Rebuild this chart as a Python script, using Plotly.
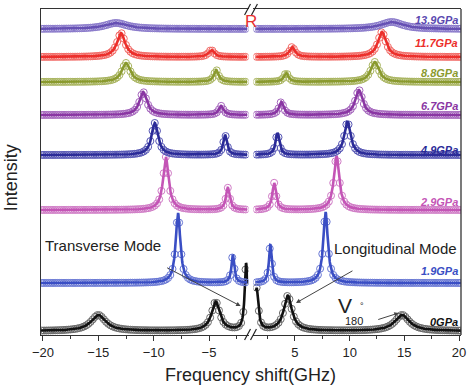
import numpy as np
import plotly.graph_objects as go

# ---------------- data ----------------
labels = ["0GPa", "1.9GPa", "2.9GPa", "4.9GPa", "6.7GPa", "8.8GPa", "11.7GPa", "13.9GPa"]
baselines = [4, 52, 125, 180, 220, 253, 278, 306]           # vertical stacking offsets
line_colors = ["#111111", "#3a4ec4", "#c455b6", "#2b2b98", "#8a36a3", "#8a9a2e", "#ec2f2b", "#6650b4"]
marker_colors = ["#6a6a6a", "#6877d4", "#d07cc6", "#5656b4", "#a566bd", "#a8b45e", "#f26a66", "#8a7acb"]
label_colors = ["#111111", "#3a4ec4", "#c455b6", "#2b2b98", "#8a36a3", "#8a9a2e", "#ec2f2b", "#5a48b0"]

# Brillouin peaks (GHz), heights (arb.), half widths (GHz)
peak_pos = [
    [-15.0, -4.4, -1.65, 1.5, 4.35, 14.8],
    [-7.8, -2.85, 2.75, 7.8],
    [-8.9, -3.3, 3.1, 8.8],
    [-9.9, -3.55, 3.4, 9.8],
    [-10.95, -3.9, 3.75, 10.85],
    [-12.5, -4.35, 4.2, 12.3],
    [-12.95, -4.8, 4.75, 12.95],
    [-13.4, 13.85],
]
peak_h = [
    [16, 29, 67, 42, 35, 16],
    [70, 28, 38, 71],
    [53, 22, 27, 54],
    [32, 20, 22, 33],
    [23, 9, 13, 25],
    [19, 12, 9, 20],
    [24, 7, 10, 25],
    [6, 7],
]
peak_w = [
    [0.8, 0.45, 0.15, 0.18, 0.45, 0.8],
    [0.25, 0.15, 0.15, 0.25],
    [0.3, 0.2, 0.2, 0.3],
    [0.35, 0.2, 0.2, 0.35],
    [0.4, 0.25, 0.25, 0.4],
    [0.45, 0.25, 0.25, 0.45],
    [0.45, 0.3, 0.3, 0.45],
    [1.2, 1.2],
]
label_y = [13, 64, 133, 185, 229, 262, 292, 315]

left_ticks = [-20, -15, -10, -5]
right_ticks = [5, 10, 15, 20]

# ---------------- figure ----------------
W, H = 474, 386
ML, MR, MT, MB = 41, 8, 9, 51
PW, PH = W - ML - MR, H - MT - MB


def px(x):
    return (x - ML) / PW


def py(y):
    return (H - MB - y) / PH


def spectrum(x, pos, h, w, base):
    y = np.full_like(x, float(base))
    for p, a, g in zip(pos, h, w):
        y += a * g**2 / ((x - p) ** 2 + g**2)
    return y


fig = go.Figure()
xl_line = np.linspace(-20.2, -1.55, 700)
xr_line = np.linspace(1.45, 20.2, 700)
xl_mk = np.arange(-20.1, -1.55, 0.2)
xr_mk = np.arange(1.5, 20.2, 0.2)

for i in range(len(labels)):
    for xs_m, xs_l, xa in ((xl_mk, xl_line, "x"), (xr_mk, xr_line, "x2")):
        fig.add_trace(go.Scatter(
            x=xs_m, y=spectrum(xs_m, peak_pos[i], peak_h[i], peak_w[i], baselines[i]),
            mode="markers", xaxis=xa, yaxis="y",
            marker=dict(symbol="circle-open", size=7, color=marker_colors[i], line=dict(width=1)),
            hoverinfo="skip", showlegend=False))
        fig.add_trace(go.Scatter(
            x=xs_l, y=spectrum(xs_l, peak_pos[i], peak_h[i], peak_w[i], baselines[i]),
            mode="lines", xaxis=xa, yaxis="y",
            line=dict(color=line_colors[i], width=2.6),
            hoverinfo="skip", showlegend=False))

FONT = "Liberation Sans, Arial, sans-serif"
axis_common = dict(showline=True, linecolor="#333", linewidth=1.3, mirror=True,
                   ticks="outside", ticklen=5, tickcolor="#333", showgrid=False, zeroline=False,
                   tickfont=dict(family=FONT, size=13, color="#222"))


def txt(x, y, text, size, color="#222", xanchor="center", **kw):
    return dict(x=px(x), y=py(y), xref="paper", yref="paper", text=text, showarrow=False,
                xanchor=xanchor, yanchor="middle", font=dict(family=FONT, size=size, color=color), **kw)


def arrow(x, y, ax, ay):
    return dict(x=px(x), y=py(y), xref="paper", yref="paper", text="", showarrow=True, ax=ax, ay=ay,
                arrowhead=2, arrowsize=0.9, arrowwidth=1, arrowcolor="#444")


annotations = []
for i, lab in enumerate(labels):
    annotations.append(txt(465, H - MB - label_y[i], "<b><i>%s</i></b>" % lab, 11, label_colors[i],
                           xanchor="right"))

annotations += [
    txt(43, 245, "Transverse Mode", 15, xanchor="left"),
    txt(400, 248, "Longitudinal Mode", 15),
    arrow(243, 306, -75, -39),
    arrow(299, 303, 58, -33),
    arrow(403, 313, -22, 7),
    txt(349, 305.5, "V", 21),
    txt(358, 321, "180", 11),
    txt(366, 306, "°", 9),
    txt(254, 21, "R", 17, "#e83030"),
    txt(253, 375, "Frequency shift(GHz)", 18),
    txt(11, 178, "Intensity", 18, textangle=-90),
]

shapes = [dict(type="line", xref="paper", yref="paper", x0=1, x1=1, y0=0, y1=1,
               line=dict(color="#333", width=1.3))]
for (x0, y0, x1, y1) in [(247, 15, 253, 4), (254, 15, 260, 4), (247, 340, 253, 329), (253, 340, 259, 329)]:
    shapes.append(dict(type="line", xref="paper", yref="paper", x0=px(x0), y0=py(y0), x1=px(x1), y1=py(y1),
                       line=dict(color="#222", width=1.2)))

fig.update_layout(
    width=W, height=H, margin=dict(l=ML, r=MR, t=MT, b=MB),
    paper_bgcolor="white", plot_bgcolor="white",
    xaxis=dict(domain=[0, 210 / PW], range=[-20.18, -1.43], tickvals=left_ticks,
               minor=dict(tickvals=[-17.5, -12.5, -7.5, -2.5], ticklen=3, ticks="outside", tickcolor="#333"),
               anchor="y", **axis_common),
    xaxis2=dict(domain=[215 / PW, 1], range=[1.21, 20.18], tickvals=right_ticks,
                minor=dict(tickvals=[2.5, 7.5, 12.5, 17.5], ticklen=3, ticks="outside", tickcolor="#333"),
                anchor="y", **axis_common),
    yaxis=dict(range=[0, PH], showticklabels=False, ticks="", showline=True, linecolor="#333",
               linewidth=1.3, showgrid=False, zeroline=False),
    annotations=annotations, shapes=shapes, showlegend=False,
)

fig.write_html("out.html", config={"displayModeBar": False},
               post_script="document.body.style.margin='0px';")
